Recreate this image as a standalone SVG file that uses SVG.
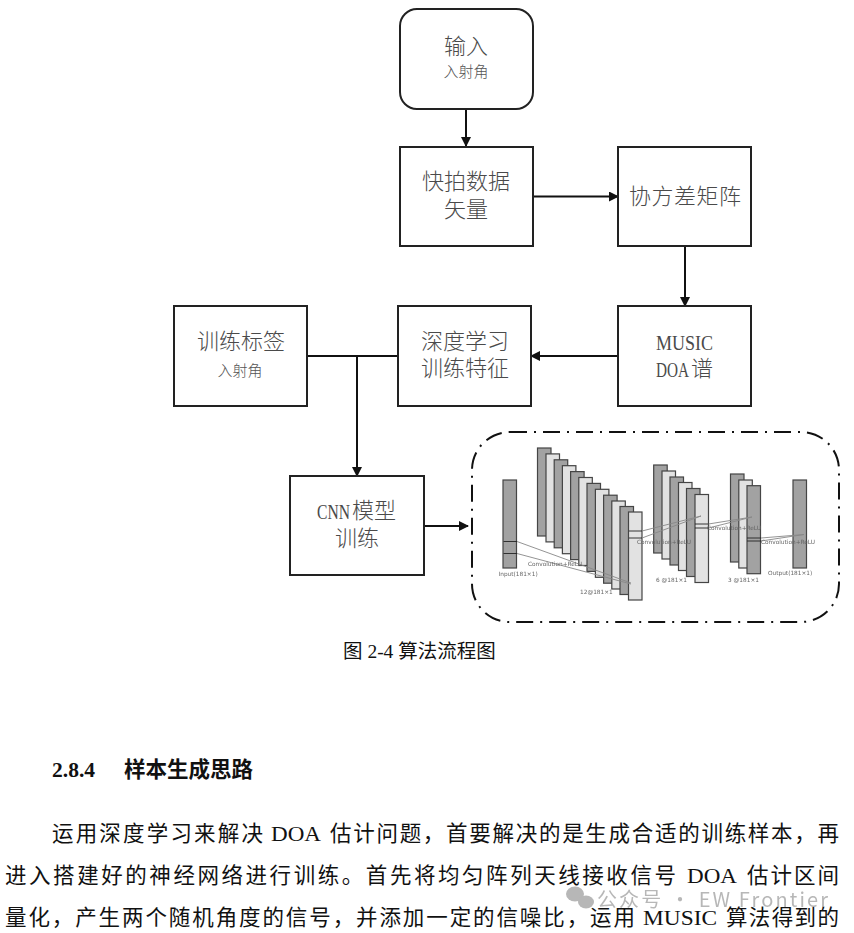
<svg xmlns="http://www.w3.org/2000/svg" width="854" height="933" viewBox="0 0 854 933">
<style>
text{font-family:"Liberation Serif","Noto Sans CJK SC",serif;fill:#111}
.box{fill:#fff;stroke:#222;stroke-width:2}
.lab{font-size:22px;fill:#4a4a4a;text-anchor:middle;font-family:"Noto Sans CJK SC",sans-serif;font-weight:300}
.lat{font-size:22px;fill:#4a4a4a;font-family:"Liberation Serif",serif}
.sub{font-size:15px;fill:#555;text-anchor:middle;font-family:"Noto Sans CJK SC",sans-serif;font-weight:300}
.con{fill:none;stroke:#111;stroke-width:2}
.d{fill:#a2a2a2;stroke:#444;stroke-width:1.2}
.l{fill:#e2e2e2;stroke:#444;stroke-width:1.2}
.th{stroke:#222;stroke-width:.9;fill:none}
.gl{stroke:#888;stroke-width:.9;fill:none}
.t{font-family:"DejaVu Sans",sans-serif;font-size:5.8px;fill:#666}
.body{font-size:21.500px}
</style>
<defs>
<marker id="a" markerWidth="10" markerHeight="10" refX="9" refY="5" orient="auto" markerUnits="userSpaceOnUse"><path d="M0,0L10,5L0,10Z" fill="#111"/></marker>
<g id="dk"><rect class="d" width="13.5" height="88"/></g>
<g id="lt"><rect class="l" width="13.5" height="88"/></g>
<filter id="soft" x="-5%" y="-5%" width="110%" height="110%"><feGaussianBlur stdDeviation=".4"/></filter>
</defs>

<g id="connectors">
<path class="con" d="M466 109V146" marker-end="url(#a)"/>
<path class="con" d="M533 196.500H618" marker-end="url(#a)"/>
<path class="con" d="M685 246V306" marker-end="url(#a)"/>
<path class="con" d="M618 356H531" marker-end="url(#a)"/>
<path class="con" d="M307 356H398"/>
<path class="con" d="M357 356V476" marker-end="url(#a)"/>
<path class="con" d="M424 526H468" marker-end="url(#a)"/>
</g>

<g id="n-input"><rect class="box" x="400" y="9" width="133" height="100" rx="17"/><text class="lab" x="466" y="54">输入</text><text class="sub" x="466" y="77">入射角</text></g>
<g id="n-snapshot"><rect class="box" x="400" y="147" width="133" height="99"/><text class="lab" x="466" y="189">快拍数据</text><text class="lab" x="466" y="217">矢量</text></g>
<g id="n-cov"><rect class="box" x="618" y="147" width="133" height="99"/><text class="lab" x="685" y="204" textLength="112">协方差矩阵</text></g>
<g id="n-music"><rect class="box" x="618" y="306" width="133" height="100"/><text class="lat" x="656" y="350" textLength="57" lengthAdjust="spacingAndGlyphs">MUSIC</text><text class="lat" x="656" y="377" textLength="33" lengthAdjust="spacingAndGlyphs">DOA</text><text class="lab" x="702" y="376">谱</text></g>
<g id="n-feat"><rect class="box" x="398" y="306" width="133" height="100"/><text class="lab" x="465" y="349">深度学习</text><text class="lab" x="465" y="376">训练特征</text></g>
<g id="n-label"><rect class="box" x="174" y="306" width="133" height="100"/><text class="lab" x="241" y="349">训练标签</text><text class="sub" x="240" y="376">入射角</text></g>
<g id="n-cnn"><rect class="box" x="290" y="476" width="134" height="99"/><text class="lat" x="317" y="519" textLength="33" lengthAdjust="spacingAndGlyphs">CNN</text><text class="lab" x="374" y="518">模型</text><text class="lab" x="357" y="546">训练</text></g>

<g id="n-net">
<rect x="472" y="432" width="367" height="190" rx="38" fill="#fff" stroke="#111" stroke-width="2" stroke-dasharray="17 7 2 7"/>
<g filter="url(#soft)">
<use href="#dk" x="503" y="480"/>
<use href="#dk" x="537.500" y="448"/>
<use href="#lt" x="546" y="453.900"/>
<use href="#dk" x="554.200" y="459.800"/>
<use href="#lt" x="562.400" y="465.700"/>
<use href="#dk" x="570.600" y="471.600"/>
<use href="#lt" x="578.800" y="477.500"/>
<use href="#dk" x="587" y="483.400"/>
<use href="#lt" x="595.400" y="489.300"/>
<use href="#dk" x="603.600" y="495.200"/>
<use href="#lt" x="611.800" y="501"/>
<use href="#dk" x="620" y="506.500"/>
<use href="#lt" x="628.500" y="512"/>
<use href="#dk" x="653.700" y="465"/>
<use href="#lt" x="662" y="471"/>
<use href="#dk" x="670" y="477"/>
<use href="#lt" x="678.500" y="482.500"/>
<use href="#dk" x="686.500" y="488.500"/>
<use href="#lt" x="695" y="494.500"/>
<use href="#dk" x="730.500" y="474"/>
<use href="#lt" x="738.800" y="480"/>
<use href="#dk" x="747" y="485.700"/>
<use href="#dk" x="793" y="480"/>
<path class="th" d="M503.500 541.500H517M503.500 553.500H517M629 531H642M629 538H642M695 524H708.500M695 528H708.500M747 538H761M747 541H761"/>
<path class="gl" d="M517 541.500L631 583M517 553.500L631 584M642 531L701 516M642 538L701 516M708.500 524L752 517M708.500 528L752 517M761 538L804 534.500M761 541L804 534.500"/>
<text class="t" x="498.500" y="576">Input(181×1)</text>
<text class="t" x="528" y="566">Convolution+ReLU</text>
<text class="t" x="580" y="594">12@181×1</text>
<text class="t" x="637" y="544">Convolution+ReLU</text>
<text class="t" x="656" y="582">6 @181×1</text>
<text class="t" x="707" y="530">Convolution+ReLU</text>
<text class="t" x="728" y="582">3 @181×1</text>
<text class="t" x="761" y="544">Convolution+ReLU</text>
<text class="t" x="768" y="575">Output(181×1)</text>
</g>
</g>

<text x="343" y="658" font-size="19.500">图 2-4 算法流程图</text>
<text x="52" y="777" font-size="21.500" font-weight="700">2.8.4</text>
<text x="124" y="777" font-size="21.500" font-weight="700">样本生成思路</text>

<text class="body" x="52" y="841" textLength="211">运用深度学习来解决</text>
<text class="body" x="271" y="841" textLength="50" lengthAdjust="spacingAndGlyphs">DOA</text>
<text class="body" x="330" y="841" textLength="509">估计问题，首要解决的是生成合适的训练样本，再</text>
<text class="body" x="5" y="883" textLength="671">进入搭建好的神经网络进行训练。首先将均匀阵列天线接收信号</text>
<text class="body" x="687" y="883" textLength="50" lengthAdjust="spacingAndGlyphs">DOA</text>
<text class="body" x="747" y="883" textLength="92">估计区间</text>
<text class="body" x="5" y="925" textLength="630">量化，产生两个随机角度的信号，并添加一定的信噪比，运用</text>
<text class="body" x="643" y="925" textLength="74" lengthAdjust="spacingAndGlyphs">MUSIC</text>
<text class="body" x="726" y="925" textLength="113">算法得到的</text>

<g id="watermark" opacity=".7">
<ellipse cx="575" cy="894" rx="9" ry="7.500" fill="#999"/>
<ellipse cx="586" cy="902" rx="8" ry="6.500" fill="#999"/>
<text x="597" y="907" font-size="20" textLength="231" style="font-family:'Noto Sans CJK SC',sans-serif;fill:#999">公众号 · EW Frontier</text>
</g>
</svg>
